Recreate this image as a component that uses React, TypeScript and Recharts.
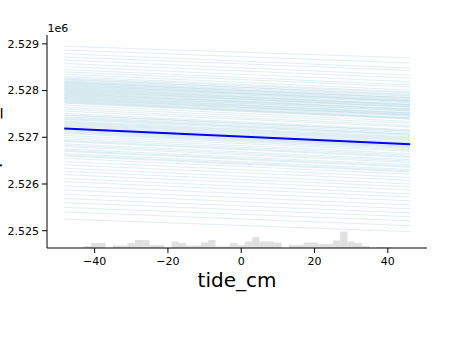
import React from 'react';
import { LineChart, Line, XAxis, YAxis, ReferenceArea } from 'recharts';

// x grid of the ICE / PD curves (tide_cm)
const iceX = [-48.3, 46.1];

// individual conditional expectation curves: value at left end and right end
const iceStart = [
  2528950, 2528870, 2528790, 2528720, 2528650, 2528580, 2528510, 2528450,
  2528400, 2528350, 2528300, 2528250, 2528210,
  2528180, 2528150, 2528120, 2528090, 2528060, 2528030, 2528000, 2527970,
  2527940, 2527910, 2527880, 2527850, 2527820, 2527790, 2527760, 2527730,
  2527690, 2527640, 2527600, 2527560, 2527510, 2527470, 2527420, 2527380, 2527330,
  2527290, 2527250, 2527200, 2527160, 2527120, 2527080, 2527040, 2527000,
  2526960, 2526910, 2526860, 2526800, 2526750, 2526700, 2526650, 2526600, 2526550,
  2526480, 2526410, 2526340, 2526270, 2526200, 2526120, 2526050,
  2525960, 2525870, 2525780, 2525690, 2525600, 2525500, 2525400, 2525250,
  2528270, 2528230, 2528195, 2528165, 2528135, 2528105, 2528075, 2528045, 2528015,
  2527985, 2527955, 2527925, 2527895, 2527865, 2527835, 2527805, 2527775, 2527745,
  2527480, 2527440, 2527400, 2527350, 2527310, 2527270, 2527230, 2527180, 2527140, 2527100,
  2526930, 2526830, 2526720, 2526620,
];
const iceEnd = [
  2528700, 2528590, 2528480, 2528430, 2528330, 2528270, 2528190, 2528120,
  2528080, 2528010, 2527970, 2527900, 2527880,
  2527830, 2527810, 2527770, 2527760, 2527710, 2527690, 2527650, 2527640,
  2527590, 2527570, 2527530, 2527510, 2527470, 2527450, 2527410, 2527390,
  2527340, 2527300, 2527250, 2527220, 2527160, 2527130, 2527070, 2527040, 2526990,
  2526950, 2526900, 2526860, 2526810, 2526780, 2526730, 2526700, 2526650,
  2526620, 2526570, 2526520, 2526460, 2526410, 2526360, 2526310, 2526260, 2526210,
  2526140, 2526080, 2526000, 2525940, 2525870, 2525790, 2525720,
  2525640, 2525550, 2525470, 2525380, 2525300, 2525210, 2525110, 2524980,
  2527950, 2527920, 2527850, 2527845, 2527790, 2527780, 2527740, 2527700, 2527680,
  2527660, 2527610, 2527600, 2527560, 2527520, 2527490, 2527480, 2527420, 2527400,
  2527140, 2527100, 2527060, 2527010, 2526970, 2526930, 2526880, 2526840, 2526800, 2526760,
  2526590, 2526490, 2526380, 2526280,
];

// averaged partial dependence
const meanY = [2527190, 2526850];

// feature distribution histogram (bin start, bin height)
const histFrom = [
  -43, -41, -39, -37, -35, -33, -31, -29, -27, -25, -23, -21, -19, -17, -15, -13,
  -11, -9, -7, -5, -3, -1, 1, 3, 5, 7, 9, 11, 13, 15, 17, 19, 21, 23, 25, 27, 29,
  31, 33, 35, 37, 39,
];
const histCount = [
  2, 5, 5, 0, 2.5, 2.5, 5, 8, 8, 3, 3, 0, 6.5, 5, 2.5, 2.5,
  5.5, 8, 1.5, 1.5, 5, 3, 6.5, 11, 6.5, 6.5, 5.5, 0, 3, 3, 5.5, 5.5, 4, 4, 7.5, 16.5, 6.5,
  5, 2, 0, 1, 1,
];
const histBinWidth = 2;

const xTicks = [-40, -20, 0, 20, 40];
const yTicks = [2525000, 2526000, 2527000, 2528000, 2529000];

const fmtX = (v: number) => (v < 0 ? '\u2212' + Math.abs(v) : String(v));
const fmtY = (v: number) => (v / 1e6).toFixed(3);

export default function App() {
  const tickStyle = { fill: '#000', fontSize: 11 };
  return (
    <div
      style={{
        position: 'absolute',
        left: 0,
        top: 0,
        width: 474,
        height: 355,
        background: '#fff',
        fontFamily: '"DejaVu Sans", sans-serif',
      }}
    >
      <LineChart width={474} height={355} margin={{ top: 35, right: 47, bottom: 77, left: 0 }}>
        <XAxis
          type="number"
          dataKey="x"
          domain={[-53, 50.7]}
          ticks={xTicks}
          allowDataOverflow
          tickFormatter={fmtX}
          height={30}
          tickSize={5}
          tickMargin={4}
          stroke="#000"
          tick={tickStyle}
        />
        <YAxis
          yAxisId="main"
          type="number"
          domain={[2524630, 2529190]}
          ticks={yTicks}
          allowDataOverflow
          tickFormatter={fmtY}
          width={47}
          tickSize={5}
          tickMargin={3}
          stroke="#000"
          tick={tickStyle}
        />
        <YAxis
          yAxisId="hist"
          orientation="right"
          hide
          width={0}
          type="number"
          domain={[0, 213]}
          allowDataOverflow
        />
        {histFrom.map((f, i) =>
          histCount[i] > 0 ? (
            <ReferenceArea
              key={'h' + i}
              yAxisId="hist"
              x1={f}
              x2={f + histBinWidth}
              y1={0}
              y2={histCount[i]}
              fill="#d3d3d3"
              fillOpacity={0.7}
              stroke="none"
              ifOverflow="visible"
            />
          ) : null
        )}
        {iceStart.map((s, i) => (
          <Line
            key={'ice' + i}
            yAxisId="main"
            data={[
              { x: iceX[0], y: s },
              { x: iceX[1], y: iceEnd[i] },
            ]}
            dataKey="y"
            stroke="#a6d0dd"
            strokeOpacity={0.4}
            strokeWidth={0.9}
            dot={false}
            activeDot={false}
            isAnimationActive={false}
          />
        ))}
        <Line
          yAxisId="main"
          data={[
            { x: iceX[0], y: meanY[0] },
            { x: iceX[1], y: meanY[1] },
          ]}
          dataKey="y"
          stroke="#0000ff"
          strokeWidth={2}
          dot={false}
          activeDot={false}
          isAnimationActive={false}
        />
      </LineChart>
      <svg
        width={474}
        height={355}
        style={{ position: 'absolute', left: 0, top: 0, pointerEvents: 'none' }}
      >
        <text x={47.5} y={32} fontSize={11} fill="#000">1e6</text>
        <text x={237} y={287} fontSize={20} fill="#000" textAnchor="middle">tide_cm</text>
        <text x={-2} y={168} fontSize={20} fill="#000" transform="rotate(-90 -2 168)">price_total</text>
      </svg>
    </div>
  );
}
